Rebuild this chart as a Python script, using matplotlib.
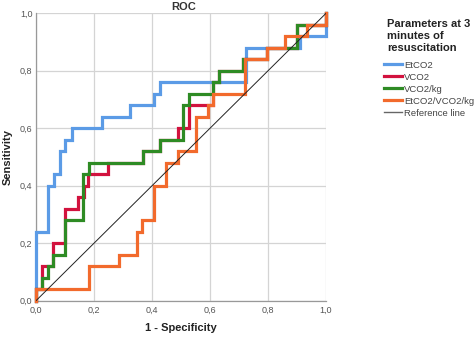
import matplotlib
matplotlib.use("Agg")
import matplotlib.pyplot as plt

plt.rcParams['font.family'] = ['Liberation Sans', 'DejaVu Sans']

# ROC step corners (1 - specificity, sensitivity), drawn with steps-post
etco2_fpr = [0, 0, 0.04, 0.062, 0.083, 0.10, 0.123, 0.226, 0.324, 0.408, 0.428, 0.725, 0.91, 1.0]
etco2_tpr = [0, 0.24, 0.40, 0.44, 0.52, 0.56, 0.60, 0.64, 0.68, 0.72, 0.76, 0.88, 0.92, 1.0]

vco2_fpr = [0, 0, 0.02, 0.06, 0.10, 0.145, 0.165, 0.18, 0.25, 0.37, 0.428, 0.488, 0.529,
            0.609, 0.631, 0.715, 0.795, 0.90, 1.0]
vco2_tpr = [0, 0.04, 0.12, 0.20, 0.32, 0.36, 0.40, 0.44, 0.48, 0.52, 0.56, 0.60, 0.68,
            0.76, 0.80, 0.84, 0.88, 0.96, 1.0]

vco2kg_fpr = [0, 0, 0.02, 0.04, 0.06, 0.10, 0.163, 0.184, 0.37, 0.428, 0.508, 0.529,
              0.611, 0.631, 0.715, 0.795, 0.90, 1.0]
vco2kg_tpr = [0, 0.04, 0.08, 0.12, 0.16, 0.28, 0.44, 0.48, 0.52, 0.56, 0.68, 0.72,
              0.76, 0.80, 0.84, 0.88, 0.96, 1.0]

ratio_fpr = [0, 0, 0.184, 0.287, 0.35, 0.367, 0.407, 0.447, 0.489, 0.551, 0.592, 0.611,
             0.72, 0.795, 0.859, 0.935, 1.0]
ratio_tpr = [0, 0.04, 0.12, 0.16, 0.24, 0.28, 0.40, 0.48, 0.52, 0.64, 0.68, 0.72,
             0.84, 0.88, 0.92, 0.96, 1.0]

ticks = [0, 0.2, 0.4, 0.6, 0.8, 1.0]
tick_labels = ["0,0", "0,2", "0,4", "0,6", "0,8", "1,0"]

series = [
    (etco2_fpr, etco2_tpr, "EtCO2", "#5b9be6"),
    (vco2_fpr, vco2_tpr, "VCO2", "#d2123e"),
    (vco2kg_fpr, vco2kg_tpr, "VCO2/kg", "#2e8b24"),
    (ratio_fpr, ratio_tpr, "EtCO2/VCO2/kg", "#f26a2c"),
]

W, H = 474, 338
fig = plt.figure(figsize=(W / 100, H / 100), dpi=100)
ax = fig.add_axes([36 / W, 1 - 300.7 / H, 290 / W, 287.4 / H])

for fpr, tpr, name, col in series:
    ax.plot(fpr, tpr, drawstyle="steps-post", color=col, lw=2.3, label=name,
            clip_on=False, zorder=3, solid_joinstyle="miter")
ax.plot([0, 1], [0, 1], color="#222222", lw=0.7, label="Reference line", zorder=4)

ax.set_xlim(0, 1)
ax.set_ylim(0, 1)
ax.set_xticks(ticks)
ax.set_yticks(ticks)
ax.set_xticklabels(tick_labels)
ax.set_yticklabels(tick_labels)
ax.tick_params(length=0, labelsize=6.5, labelcolor="#555555")
ax.tick_params(axis="x", pad=4)
ax.tick_params(axis="y", pad=2.5)
ax.grid(True, color="#d4d4d4", lw=0.9)
ax.set_axisbelow(True)
for s in ["top", "right"]:
    ax.spines[s].set_visible(False)
for s in ["left", "bottom"]:
    ax.spines[s].set_color("#999999")
    ax.spines[s].set_linewidth(0.9)

fig.text(184 / W, 1 - 7 / H, "ROC", ha="center", va="center", fontsize=8, fontweight="bold", color="#333333")
fig.text(181 / W, 1 - 328 / H, "1 - Specificity", ha="center", va="center", fontsize=8,
         fontweight="bold", color="#222222")
fig.text(8 / W, 1 - 157 / H, "Sensitivity", ha="center", va="center", rotation=90, fontsize=8,
         fontweight="bold", color="#222222")

leg = ax.legend(loc="upper left", bbox_to_anchor=(384 / W, 1 - 19 / H), bbox_transform=fig.transFigure,
                frameon=False, fontsize=6.8, handlelength=1.9, handletextpad=0.2,
                labelspacing=0.32, borderpad=0, borderaxespad=0,
                title="Parameters at 3\nminutes of\nresuscitation",
                title_fontproperties={"weight": "bold", "size": 8})
leg._legend_box.sep = 5.5  # gap between title and entries
leg.get_title().set_linespacing(1.25)
leg.get_title().set_color("#222222")
for t in leg.get_texts():
    t.set_color("#444444")
for h in leg.get_lines()[:4]:
    h.set_linewidth(2.3)
leg.get_lines()[4].set_color("#666666")
leg.get_lines()[4].set_linewidth(1.0)

fig.savefig("out.png", dpi=100)
